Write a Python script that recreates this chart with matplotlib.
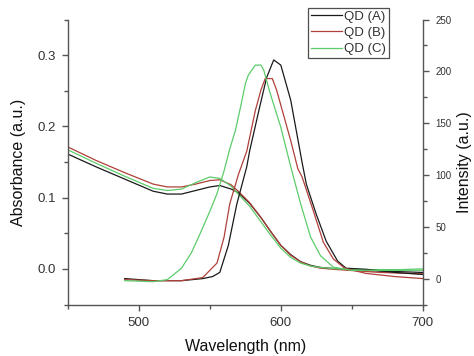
import matplotlib
matplotlib.use("Agg")
import matplotlib.pyplot as plt
from matplotlib.ticker import MultipleLocator

plt.rcParams['font.family'] = ['Liberation Sans', 'DejaVu Sans']

# Absorbance data (left axis)
wl_abs = [450, 470, 490, 510, 520, 530, 540, 550, 557, 565, 570, 578, 586, 593,
          600, 607, 614, 621, 628, 640, 655, 670, 685, 700]
abs_A = [0.161, 0.143, 0.126, 0.109, 0.105, 0.105, 0.110, 0.115, 0.117, 0.112, 0.107,
         0.092, 0.072, 0.052, 0.033, 0.020, 0.010, 0.005, 0.002, 0.000, -0.002, -0.003,
         -0.004, -0.005]
abs_B = [0.171, 0.152, 0.135, 0.119, 0.115, 0.115, 0.119, 0.124, 0.125, 0.118, 0.109,
         0.093, 0.072, 0.052, 0.033, 0.019, 0.010, 0.004, 0.001, -0.001, -0.003, -0.005,
         -0.006, -0.007]
abs_C = [0.167, 0.148, 0.130, 0.113, 0.110, 0.112, 0.121, 0.129, 0.127, 0.116, 0.105,
         0.088, 0.066, 0.047, 0.029, 0.016, 0.008, 0.004, 0.002, 0.000, -0.001, -0.001,
         -0.001, 0.000]

# PL data (right axis)
wl_pl_A = [490, 510, 530, 545, 552, 557, 563, 569, 576, 578, 585, 590, 595, 600, 607,
           615, 618, 625, 632, 640, 646, 660, 680, 700]
pl_A = [0, -2, -2, 0, 2, 6, 32, 72, 108, 123, 165, 194, 211, 206, 172, 112, 91, 62,
        36, 17, 10, 9, 6, 4]
wl_pl_B = [490, 510, 530, 545, 555, 560, 564, 570, 576, 582, 586, 589, 594, 597, 607,
           612, 615, 623, 630, 637, 645, 660, 680, 700]
pl_B = [-1, -2, -2, 1, 15, 40, 72, 100, 123, 162, 182, 193, 193, 182, 133, 106, 98, 65,
        35, 19, 10, 5, 2, 0]
wl_pl_C = [490, 510, 520, 530, 537, 543, 550, 555, 560, 564, 568, 572, 575, 577, 582,
           586, 588, 592, 600, 607, 614, 621, 628, 637, 650, 670, 700]
pl_C = [-2, -3, -1, 10, 25, 43, 65, 82, 104, 125, 143, 168, 188, 196, 206, 206, 201,
        181, 146, 108, 72, 40, 22, 11, 8, 8, 8]

labels = ['QD (A)', 'QD (B)', 'QD (C)']
colors = ['#1a1a1a', '#b0403a', '#5ccc6a']

fig = plt.figure(figsize=(4.74, 3.56), dpi=100)
ax = fig.add_axes([68/474, 1 - 304.5/356, (422.7 - 68)/474, (304.5 - 19.5)/356])
ax2 = ax.twinx()

handles = []
for y, c, lab in zip([abs_A, abs_B, abs_C], colors, labels):
    h, = ax.plot(wl_abs, y, color=c, lw=0.9, label=lab)
    handles.append(h)
for x, y, c in zip([wl_pl_A, wl_pl_B, wl_pl_C], [pl_A, pl_B, pl_C], colors):
    ax2.plot(x, y, color=c, lw=0.9)

ax.set_xlim(450, 700)
ax.set_ylim(-0.05, 0.35)
ax2.set_ylim(-25, 250)

gray = '#555555'
for a in (ax, ax2):
    a.spines['top'].set_visible(False)
    for s in ('left', 'right', 'bottom'):
        a.spines[s].set_color(gray)
        a.spines[s].set_linewidth(1.0)
ax.spines['right'].set_visible(False)
ax2.spines['left'].set_visible(False)
ax2.spines['bottom'].set_visible(False)

ax.xaxis.set_major_locator(MultipleLocator(100))
ax.xaxis.set_minor_locator(MultipleLocator(50))
ax.yaxis.set_major_locator(MultipleLocator(0.1))
ax.yaxis.set_minor_locator(MultipleLocator(0.05))
ax2.yaxis.set_major_locator(MultipleLocator(50))
ax2.yaxis.set_minor_locator(MultipleLocator(25))
ax.set_yticks([0.0, 0.1, 0.2, 0.3])

ax.tick_params(axis='both', which='major', direction='out', length=4, width=1,
               color=gray, labelsize=9.5, labelcolor='#333333', pad=5)
ax.tick_params(axis='both', which='minor', direction='out', length=3, width=1, color=gray)
ax2.tick_params(axis='y', which='major', direction='out', length=4, width=1,
                color=gray, labelsize=7, labelcolor='#333333', pad=5)
ax2.tick_params(axis='y', which='minor', direction='out', length=3, width=1, color=gray)
ax.yaxis.set_major_formatter(matplotlib.ticker.FormatStrFormatter('%.1f'))

ax.set_xlabel('Wavelength (nm)', fontsize=11.5, color='#111111', labelpad=7)
ax.set_ylabel('Absorbance (a.u.)', fontsize=11.5, color='#111111', labelpad=8)
ax2.set_ylabel('Intensity (a.u.)', fontsize=11.5, color='#111111', labelpad=4)

leg = fig.legend(handles=handles, loc='upper left',
                 bbox_to_anchor=(308/474, 1 - 8/356), fontsize=9.5,
                 frameon=True, fancybox=False, edgecolor='#222222',
                 handlelength=2.4, handletextpad=0.15, borderpad=0.2,
                 labelspacing=0.3, borderaxespad=0)
leg.get_frame().set_linewidth(0.9)
for t in leg.get_texts():
    t.set_color('#333333')

fig.savefig('out.png', dpi=100)
